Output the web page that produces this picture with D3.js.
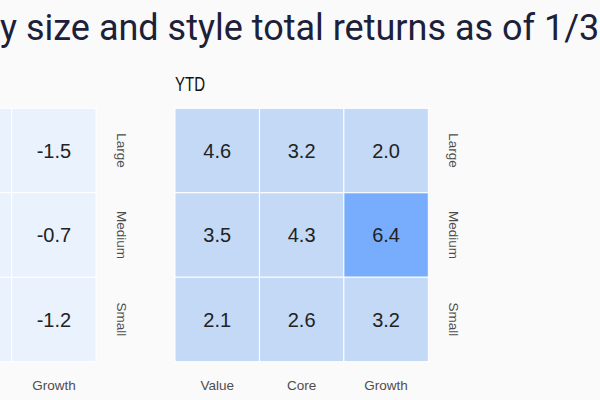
<!DOCTYPE html>
<html>
<head>
<meta charset="utf-8">
<script src="https://cdn.jsdelivr.net/npm/d3@7"></script>
<style>
  html, body { margin: 0; padding: 0; background: #fafafa; }
  svg { display: block; }
</style>
</head>
<body>
<svg id="chart" width="600" height="400"></svg>
<script>
// ---- data ----
const titleText = "Equity size and style total returns as of 1/31/2025";
const styles = ["Value", "Core", "Growth"];
const sizes = ["Large", "Medium", "Small"];
const panelNames = ["", "YTD"];
// left panel: only the Growth column is readable in the picture (others are cropped off)
const leftValue  = [null, null, null];
const leftCore   = [null, null, null];
const leftGrowth = [-1.5, -0.7, -1.2];
// YTD panel
const ytdValue  = [4.6, 3.5, 2.1];
const ytdCore   = [3.2, 4.3, 2.6];
const ytdGrowth = [2.0, 6.4, 3.2];

const panels = [
  { name: panelNames[0], cols: [leftValue, leftCore, leftGrowth] },
  { name: panelNames[1], cols: [ytdValue, ytdCore, ytdGrowth] }
];

// ---- layout ----
const svg = d3.select("#chart");
const W = 600, H = 400;
svg.append("rect").attr("width", W).attr("height", H).attr("fill", "#fafafa");

const gridTop = 108.3, gridBottom = 361.7;
const panelX = [[-156.7, 96], [175, 428.3]];

const color = d3.scaleThreshold().domain([0, 5]).range(["#eaf2fe", "#c3d9f6", "#77adfc"]);

const y = d3.scaleBand().domain(sizes).range([gridTop, gridBottom]);

// title
const title = svg.append("text")
  .attr("y", 40)
  .attr("font-family", "Roboto, 'Noto Sans', sans-serif")
  .attr("font-size", 36)
  .attr("fill", "#1c2039")
  .text(titleText);
const off = title.node().getSubStringLength(0, 5);
title.attr("x", -off);

panels.forEach((p, i) => {
  const x = d3.scaleBand().domain(styles).range(panelX[i]);
  const g = svg.append("g");

  if (p.name) {
    g.append("text")
      .attr("x", panelX[i][0])
      .attr("y", 90.5)
      .attr("font-family", "'Liberation Sans', Arial, sans-serif")
      .attr("font-size", 19.5)
      .attr("textLength", 30)
      .attr("lengthAdjust", "spacingAndGlyphs")
      .attr("fill", "#111")
      .text(p.name);
  }

  const cells = [];
  styles.forEach((s, ci) => sizes.forEach((z, ri) => cells.push({ s, z, v: p.cols[ci][ri] })));

  g.selectAll("rect.cell").data(cells).join("rect")
    .attr("class", "cell")
    .attr("x", d => x(d.s))
    .attr("y", d => y(d.z))
    .attr("width", x.bandwidth())
    .attr("height", y.bandwidth())
    .attr("fill", d => color(d.v == null ? -1 : d.v))
    .attr("stroke", "#ffffff")
    .attr("stroke-width", 1);

  g.selectAll("text.val").data(cells.filter(d => d.v != null)).join("text")
    .attr("class", "val")
    .attr("x", d => x(d.s) + x.bandwidth() / 2)
    .attr("y", d => y(d.z) + y.bandwidth() / 2)
    .attr("dy", "0.36em")
    .attr("text-anchor", "middle")
    .attr("font-family", "'Liberation Sans', Arial, sans-serif")
    .attr("font-size", 20)
    .attr("fill", "#222")
    .text(d => d.v.toFixed(1));

  // bottom axis (style labels)
  const ax = g.append("g").attr("transform", `translate(0,${gridBottom})`)
    .call(d3.axisBottom(x).tickSize(0).tickPadding(0));
  ax.select(".domain").remove();
  ax.selectAll("text")
    .attr("y", 28.8).attr("dy", 0)
    .attr("font-family", "'Liberation Sans', Arial, sans-serif")
    .attr("font-size", 13.5)
    .attr("fill", "#4d4d4d");

  // right axis (size labels, rotated)
  const ay = g.append("g").attr("transform", `translate(${panelX[i][1]},0)`)
    .call(d3.axisRight(y).tickSize(0).tickPadding(0));
  ay.select(".domain").remove();
  ay.selectAll("text")
    .attr("x", 0).attr("dy", 0)
    .attr("text-anchor", "middle")
    .attr("transform", "translate(21,0) rotate(90)")
    .attr("font-family", "'Liberation Sans', Arial, sans-serif")
    .attr("font-size", 13.5)
    .attr("fill", "#4d4d4d");
});
</script>
</body>
</html>
